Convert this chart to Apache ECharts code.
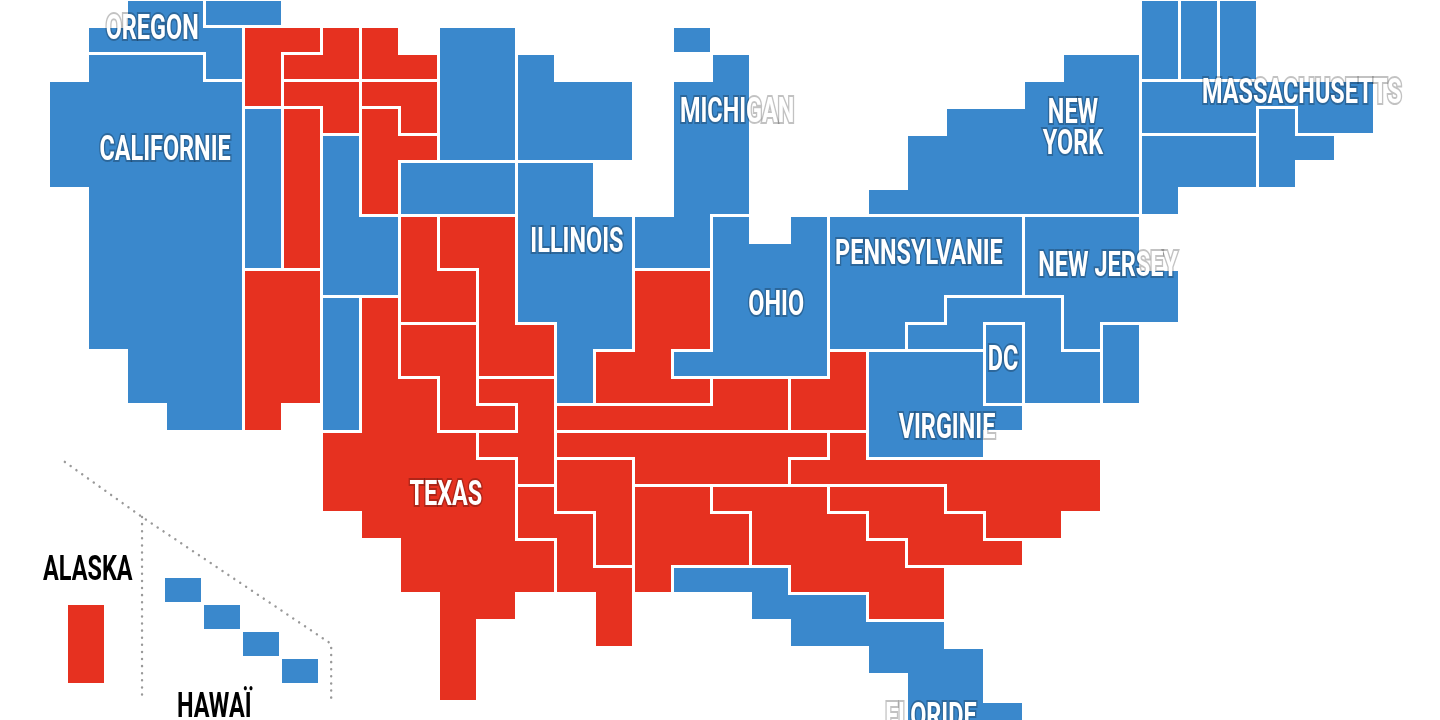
<!DOCTYPE html>
<html>
<head>
<meta charset="utf-8">
<style>
  html, body { margin: 0; padding: 0; background: #fff; }
  #main { width: 1440px; height: 720px; }
</style>
<script src="https://cdn.jsdelivr.net/npm/echarts@6/dist/echarts.min.js"></script>
</head>
<body>
<div id="main"></div>
<script>
// each state: list of [row, first column, last column] on the cartogram grid
var washington = [[0, 4, 5]];
var oregon = [[0, 2, 3], [1, 1, 4], [2, 4, 4]];
var californie = [[2, 1, 3], [3, 0, 4], [4, 0, 4], [5, 0, 4], [6, 0, 4], [7, 1, 4], [8, 1, 4], [9, 1, 4], [10, 1, 4], [11, 1, 4], [12, 1, 4], [13, 2, 4], [14, 2, 4], [15, 3, 4]];
var nevada = [[4, 5, 5], [5, 5, 5], [6, 5, 5], [7, 5, 5], [8, 5, 5], [9, 5, 5]];
var colorado = [[5, 7, 7], [6, 7, 7], [7, 7, 7], [8, 7, 8], [9, 7, 8], [10, 7, 8]];
var newMexico = [[11, 7, 7], [12, 7, 7], [13, 7, 7], [14, 7, 7], [15, 7, 7]];
var minnesota = [[1, 10, 11], [2, 10, 11], [3, 10, 11], [4, 10, 11], [5, 10, 11]];
var wisconsin = [[2, 12, 12], [3, 12, 14], [4, 12, 14], [5, 12, 14]];
var iowa = [[6, 9, 11], [7, 9, 11]];
var illinois = [[6, 12, 13], [7, 12, 13], [8, 12, 14], [9, 12, 14], [10, 12, 14], [11, 12, 14], [12, 13, 14], [13, 13, 13], [14, 13, 13]];
var michigan = [[1, 16, 16], [2, 17, 17], [3, 16, 17], [4, 16, 17], [5, 16, 17], [6, 16, 17], [7, 16, 17], [8, 15, 16], [9, 15, 16]];
var ohio = [[8, 17, 17], [8, 19, 19], [9, 17, 19], [10, 17, 19], [11, 17, 19], [12, 17, 19], [13, 16, 19]];
var pennsylvanie = [[8, 20, 24], [9, 20, 24], [10, 20, 24], [11, 20, 22], [12, 20, 21]];
var newJersey = [[8, 25, 27], [9, 25, 27], [10, 25, 28], [11, 26, 28], [12, 26, 26]];
var maryland = [[11, 23, 25], [12, 22, 23], [12, 25, 25], [13, 25, 26], [14, 25, 26]];
var dc = [[12, 24, 24], [13, 24, 24], [14, 24, 24]];
var delaware = [[12, 27, 27], [13, 27, 27], [14, 27, 27]];
var virginie = [[13, 21, 23], [14, 21, 23], [15, 21, 24], [16, 21, 23]];
var newYork = [[2, 26, 27], [3, 25, 27], [4, 23, 27], [5, 22, 27], [6, 22, 27], [7, 21, 27]];
var vermont = [[0, 28, 28], [1, 28, 28], [2, 28, 28]];
var newHampshire = [[0, 29, 29], [1, 29, 29], [2, 29, 29]];
var maine = [[0, 30, 30], [1, 30, 30], [2, 30, 30]];
var massachusetts = [[3, 28, 33], [4, 28, 30], [4, 32, 33]];
var rhodeIsland = [[4, 31, 31], [5, 31, 32], [6, 31, 31]];
var connecticut = [[5, 28, 30], [6, 28, 30], [7, 28, 28]];
var floride = [[21, 16, 18], [22, 18, 20], [23, 19, 22], [24, 21, 23], [25, 22, 23], [26, 22, 24]];
var hawaii = [[21.37, 2.95, 2.95], [22.37, 3.95, 3.95], [23.37, 4.95, 4.95], [24.37, 5.95, 5.95]];

var idaho = [[1, 5, 6], [2, 5, 5], [3, 5, 5]];
var montana = [[1, 7, 7], [2, 6, 7]];
var northDakota = [[1, 8, 8], [2, 8, 9]];
var wyoming = [[3, 6, 7], [4, 7, 7]];
var southDakota = [[3, 8, 9], [4, 9, 9]];
var nebraska = [[4, 8, 8], [5, 8, 9], [6, 8, 8], [7, 8, 8]];
var utah = [[4, 6, 6], [5, 6, 6], [6, 6, 6], [7, 6, 6], [8, 6, 6], [9, 6, 6]];
var arizona = [[10, 5, 6], [11, 5, 6], [12, 5, 6], [13, 5, 6], [14, 5, 6], [15, 5, 5]];
var kansas = [[8, 9, 9], [9, 9, 9], [10, 9, 10], [11, 9, 10]];
var missouri = [[8, 10, 11], [9, 10, 11], [10, 11, 11], [11, 11, 11], [12, 11, 12], [13, 11, 12]];
var oklahoma = [[12, 9, 10], [13, 9, 10], [14, 10, 10], [15, 10, 11]];
var arkansas = [[14, 11, 12], [15, 12, 12], [16, 11, 12], [17, 12, 12]];
var texas = [[11, 8, 8], [12, 8, 8], [13, 8, 8], [14, 8, 9], [15, 8, 9], [16, 7, 10], [17, 7, 11], [18, 7, 11], [19, 8, 11], [20, 9, 12], [21, 9, 12], [22, 10, 11], [23, 10, 10], [24, 10, 10], [25, 10, 10]];
var louisiana = [[18, 12, 12], [19, 12, 13], [20, 13, 13], [21, 13, 14], [22, 14, 14], [23, 14, 14]];
var mississippi = [[17, 13, 14], [18, 13, 14], [19, 14, 14], [20, 14, 14]];
var alabama = [[18, 15, 16], [19, 15, 17], [20, 15, 17], [21, 15, 15]];
var indiana = [[10, 15, 16], [11, 15, 16], [12, 15, 16], [13, 14, 15], [14, 14, 16]];
var kentucky = [[14, 17, 18], [15, 13, 18]];
var westVirginia = [[13, 20, 20], [14, 19, 20], [15, 19, 20]];
var tennessee = [[16, 13, 19], [17, 15, 18]];
var northCarolina = [[16, 20, 20], [17, 19, 26], [18, 23, 26], [19, 24, 25]];
var southCarolina = [[18, 20, 22], [19, 21, 23], [20, 22, 24]];
var georgia = [[18, 17, 19], [19, 18, 20], [20, 18, 21], [21, 19, 22], [22, 21, 22]];
var alaska = [[22.37, 0.46, 0.46], [23.37, 0.46, 0.46], [24.37, 0.46, 0.46]];

var blueStates = [washington, oregon, californie, nevada, colorado, newMexico, minnesota, wisconsin, iowa, illinois, michigan, ohio, pennsylvanie, newJersey, maryland, dc, delaware, virginie, newYork, vermont, newHampshire, maine, massachusetts, rhodeIsland, connecticut, floride, hawaii];
var redStates = [idaho, montana, northDakota, wyoming, southDakota, nebraska, utah, arizona, kansas, missouri, oklahoma, arkansas, texas, louisiana, mississippi, alabama, indiana, kentucky, westVirginia, tennessee, northCarolina, southCarolina, georgia, alaska];

// labels, anchored on the same grid
var labelNames = ["OREGON", "CALIFORNIE", "MICHIGAN", "ILLINOIS", "NEW\nYORK", "MASSACHUSETTS", "PENNSYLVANIE", "NEW JERSEY", "OHIO", "DC", "VIRGINIE", "TEXAS", "FLORIDE"];
var labelCols = [2.62, 2.95, 17.62, 13.51, 26.23, 32.10, 22.28, 27.13, 18.62, 24.44, 23.00, 10.15, 22.59];
var labelRows = [1.07, 5.55, 4.15, 8.96, 4.78, 3.44, 9.41, 9.85, 11.30, 13.33, 15.85, 18.33, 26.55];
var insetNames = ["ALASKA", "HAWAÏ"];
var insetCols = [0.97, 4.21];
var insetRows = [21.11, 26.18];

// dotted frame round the Alaska / Hawaii insets
var frameCols = [0.38, 2.36, 7.21, 7.21];
var frameRows = [17.07, 19.11, 23.81, 25.81];
var splitCols = [2.36, 2.36];
var splitRows = [19.11, 25.89];

(function() {
  var BLUE = "#3a88cc";
  var RED = "#e63120";
  var GAP = 3;
  var FONT = "Roboto";
  var TEXT_SQUEEZE = 0.67;

  var filled = {};
  var cells = [];
  function key(state, col, row) {
    return state + "|" + col.toFixed(2) + "|" + row.toFixed(2);
  }
  function addStates(list, party, offset) {
    list.forEach(function(runs, i) {
      var id = offset + i;
      runs.forEach(function(run) {
        for (var c = run[1]; c <= run[2]; c++) {
          filled[key(id, c, run[0])] = true;
          cells.push([c, run[0], id, party]);
        }
      });
    });
  }
  addStates(blueStates, 0, 0);
  addStates(redStates, 1, blueStates.length);

  function renderCell(params, api) {
    var col = api.value(0);
    var row = api.value(1);
    var id = api.value(2);
    var a = api.coord([col, row]);
    var b = api.coord([col + 1, row + 1]);
    var x = Math.round(a[0]);
    var y = Math.round(a[1]);
    var w = Math.round(b[0]) - x - GAP;
    var h = Math.round(b[1]) - y - GAP;
    var right = filled[key(id, col + 1, row)];
    var below = filled[key(id, col, row + 1)];
    var across = filled[key(id, col + 1, row + 1)];
    var style = { fill: api.value(3) ? RED : BLUE };
    // white seam stays open unless the neighbouring cell is the same state
    var children = [{ type: "rect", shape: { x: x, y: y, width: w, height: h }, style: style }];
    if (right) {
      children.push({ type: "rect", shape: { x: x + w, y: y, width: GAP, height: h }, style: style });
    }
    if (below) {
      children.push({ type: "rect", shape: { x: x, y: y + h, width: w, height: GAP }, style: style });
    }
    if (right && below && across) {
      children.push({ type: "rect", shape: { x: x + w, y: y + h, width: GAP, height: GAP }, style: style });
    }
    return { type: "group", children: children };
  }

  function labelData(cols, rows) {
    return cols.map(function(c, i) {
      return [c, rows[i]];
    });
  }

  function renderLabel(names, fill, stroke) {
    return function(params, api) {
      var p = api.coord([api.value(0), api.value(1)]);
      return {
        type: "text",
        x: p[0],
        y: p[1],
        scaleX: TEXT_SQUEEZE,
        style: {
          text: names[params.dataIndex],
          align: "center",
          verticalAlign: "middle",
          fontFamily: FONT,
          fontWeight: "bold",
          fontSize: 35,
          lineHeight: 31,
          fill: fill,
          stroke: stroke,
          lineWidth: stroke ? 4 : 0
        }
      };
    };
  }

  function dotted(cols, rows) {
    return {
      type: "line",
      showSymbol: false,
      silent: true,
      z: 1,
      data: cols.map(function(c, i) { return [c, rows[i]]; }),
      lineStyle: { color: "#999", width: 2.4, type: [0.1, 7], cap: "round" }
    };
  }

  var myChart = echarts.init(document.getElementById("main"));
  var option = {
    animation: false,
    backgroundColor: "#fff",
    grid: { left: 50, top: 1, width: 1365, height: 719 },
    xAxis: { type: "value", min: 0, max: 35, show: false },
    // 27 px a row: the last row runs past the bottom of the window
    yAxis: { type: "value", min: 0, max: 719 / 27, inverse: true, show: false },
    series: [
      { type: "custom", renderItem: renderCell, data: cells, silent: true, z: 2, clip: false },
      dotted(frameCols, frameRows),
      dotted(splitCols, splitRows),
      {
        type: "custom",
        renderItem: renderLabel(labelNames, "#fff", "rgba(0,0,0,0.24)"),
        data: labelData(labelCols, labelRows),
        silent: true,
        z: 5,
        clip: false
      },
      {
        type: "custom",
        renderItem: renderLabel(insetNames, "#000", null),
        data: labelData(insetCols, insetRows),
        silent: true,
        z: 5,
        clip: false
      }
    ]
  };
  myChart.setOption(option);
  window.addEventListener("resize", function() {
    myChart.resize();
  });
})();
</script>
</body>
</html>
